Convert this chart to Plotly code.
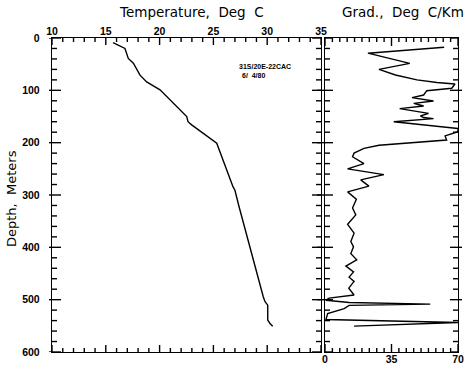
import plotly.graph_objects as go

# ---- data ----
temp_depth = [9, 20, 39, 48, 71, 84, 99, 124, 150, 160, 166, 201, 227, 252, 284, 291, 322, 495, 504, 510.5, 539, 545.5, 550.6]
temp_values = [15.67, 16.78, 17.09, 17.56, 18.18, 18.80, 20.04, 21.25, 22.52, 22.64, 22.98, 25.31, 25.77, 26.24, 26.82, 27.0, 27.38, 29.64, 29.80, 30.05, 30.05, 30.26, 30.51]

grad_depth = [17.8, 29, 48.5, 60, 70.7, 80, 85, 88, 96, 100.7, 109, 114, 120.5, 125, 130, 135, 144, 149, 152, 154,
              160, 173, 179, 187, 195, 205, 211, 220, 227, 240, 250, 261, 271, 283, 294, 308, 325, 338, 356,
              373, 389, 399, 412, 424, 436, 447, 457, 465, 478, 491, 497, 501, 505.4, 508.6, 511, 517, 526.5,
              538, 543.6, 550.6]
grad_values = [62.7, 22.6, 44.6, 28.4, 37.1, 48.4, 58.9, 68.4, 66.7, 53.6, 51.9, 45.8, 57.1, 46.7, 51.9, 39.3, 54.5, 50.2, 51.9, 57.1,
               36.2, 70.0, 70.0, 63.2, 64.0, 28.4, 20.5, 15.3, 14.5, 20.5, 11.9, 31.0, 18.8, 23.1, 11.9, 16.5, 14.5, 16.2, 11.9,
               15.3, 13.6, 15.0, 13.6, 16.7, 11.0, 15.0, 12.7, 15.3, 12.5, 15.3, 2.2, 0.5, 12.7, 55.4, 12.7, 10.1, 1.4,
               0.5, 70.0, 15.3]

temp_labels = [10, 15, 20, 25, 30, 35]
grad_labels = [0, 35, 70]
depth_labels = [0, 100, 200, 300, 400, 500, 600]
temp_minor = list(range(10, 36))                 # every 1 deg
grad_minor = [k * 35 / 9 for k in range(19)]     # 18 intervals on 0..70
depth_minor = list(range(0, 601, 20))            # every 20 m
temp_range = [10, 35]
grad_range = [0, 70]
depth_range = [600, 0]

W, H = 474, 367
L_X0, L_X1, R_X0, R_X1, Y_TOP, Y_BOT = 52, 321, 325, 458, 38, 352
def px(x): return x / W
def py(y): return 1 - y / H
PH = Y_BOT - Y_TOP
LPW = L_X1 - L_X0
RPW = R_X1 - R_X0
M_PER_PX = 600 / PH
T_PER_PX = (temp_range[1] - temp_range[0]) / LPW
G_PER_PX = (grad_range[1] - grad_range[0]) / RPW

LW = 1.4

fig = go.Figure()
fig.add_trace(go.Scatter(x=temp_values, y=temp_depth, mode="lines",
                         line=dict(color="black", width=LW), xaxis="x", yaxis="y", showlegend=False))
fig.add_trace(go.Scatter(x=grad_values, y=grad_depth, mode="lines",
                         line=dict(color="black", width=LW), xaxis="x2", yaxis="y2", showlegend=False))

# ---- inside tick marks, built from the tick arrays and drawn as line traces on each panel ----
def tick_trace(xs, ys, xa, ya):
    fig.add_trace(go.Scatter(x=xs, y=ys, mode="lines", line=dict(color="black", width=LW),
                             xaxis=xa, yaxis=ya, showlegend=False, hoverinfo="skip"))

# left panel: top & bottom ticks
xs, ys = [], []
for v in temp_minor:
    ln = (7 if v in temp_labels else 4) * M_PER_PX
    xs += [v, v, None, v, v, None]
    ys += [0, ln, None, 600, 600 - ln, None]
tick_trace(xs, ys, "x", "y")
# left panel: left & right ticks
xs, ys = [], []
for d in depth_minor:
    ln = (9 if d in depth_labels else 5) * T_PER_PX
    xs += [temp_range[0], temp_range[0] + ln, None, temp_range[1], temp_range[1] - ln, None]
    ys += [d, d, None, d, d, None]
tick_trace(xs, ys, "x", "y")
# right panel: top & bottom ticks
xs, ys = [], []
for k, v in enumerate(grad_minor):
    ln = (8 if k % 9 == 0 else 4) * M_PER_PX
    xs += [v, v, None, v, v, None]
    ys += [0, ln, None, 600, 600 - ln, None]
tick_trace(xs, ys, "x2", "y2")
# right panel: left & right ticks
xs, ys = [], []
for d in depth_minor:
    ln = (8 if d in depth_labels else 5) * G_PER_PX
    xs += [grad_range[0], grad_range[0] + ln, None, grad_range[1], grad_range[1] - ln, None]
    ys += [d, d, None, d, d, None]
tick_trace(xs, ys, "x2", "y2")

common = dict(showline=True, linecolor="black", linewidth=LW, showgrid=False, zeroline=False,
              mirror=True, ticks="", automargin=False)

fig.update_layout(
    width=W, height=H, autosize=False,
    margin=dict(l=0, r=0, t=0, b=0, autoexpand=False),
    paper_bgcolor="white", plot_bgcolor="white",
    font=dict(family="Liberation Sans", size=10.5, color="black"),
    xaxis=dict(domain=[px(L_X0), px(L_X1)], range=temp_range, side="top", anchor="y",
               tickmode="array", tickvals=temp_labels, ticktext=["<b>%d</b>" % v for v in temp_labels],
               ticklabelstandoff=-2, **common),
    yaxis=dict(domain=[py(Y_BOT), py(Y_TOP)], range=depth_range, anchor="x",
               tickmode="array", tickvals=depth_labels, ticktext=["<b>%d</b>" % v for v in depth_labels],
               ticklabelstandoff=9, **common),
    xaxis2=dict(domain=[px(R_X0), px(R_X1)], range=grad_range, side="bottom", anchor="y2",
                tickmode="array", tickvals=grad_labels, ticktext=["<b>%d</b>" % v for v in grad_labels],
                ticklabelstandoff=-3, **common),
    yaxis2=dict(domain=[py(Y_BOT), py(Y_TOP)], range=depth_range, anchor="x2",
                showticklabels=False, **common),
)

# ---- outer parts of the major depth ticks (outside the plot areas) as shapes ----
shapes = []
def tline(**kw):
    shapes.append(dict(type="line", layer="above", line=dict(color="black", width=LW), **kw))
for d in depth_labels:
    tline(xref="x domain", yref="y", x0=0, x1=-3 / LPW, y0=d, y1=d)
    if 0 < d < 600:
        tline(xref="x2 domain", yref="y2", x0=0, x1=-8 / RPW, y0=d, y1=d)
        tline(xref="x2 domain", yref="y2", x0=1, x1=1 + 4 / RPW, y0=d, y1=d)
fig.update_layout(shapes=shapes)

titlefont = dict(family="DejaVu Sans", size=13.5, color="black")
fig.add_annotation(text="Temperature,\u00a0\u00a0Deg\u00a0\u00a0C", xref="paper", yref="paper",
                   x=px(191), y=py(12), showarrow=False, font=titlefont, xanchor="center", yanchor="middle")
fig.add_annotation(text="Grad.,\u00a0\u00a0Deg\u00a0\u00a0C/Km", xref="paper", yref="paper",
                   x=px(403), y=py(12), showarrow=False, font=titlefont, xanchor="center", yanchor="middle")
fig.add_annotation(text="Depth,\u00a0\u00a0Meters", xref="paper", yref="paper",
                   x=px(11), y=py(199), showarrow=False, font=dict(family="DejaVu Sans", size=13, color="black"),
                   textangle=-90, xanchor="center", yanchor="middle")
smallfont = dict(family="Liberation Sans", size=7, color="black")
fig.add_annotation(text="<b>31S/20E-22CAC</b>", xref="paper", yref="paper", x=px(265), y=py(66),
                   showarrow=False, font=smallfont, xanchor="center", yanchor="middle")
fig.add_annotation(text="<b>6/\u00a0\u00a04/80</b>", xref="paper", yref="paper", x=px(253), y=py(76),
                   showarrow=False, font=smallfont, xanchor="center", yanchor="middle")

fig.write_html("out.html", config={"displayModeBar": False},
               post_script="document.body.style.margin='0';document.body.style.overflow='hidden';")
